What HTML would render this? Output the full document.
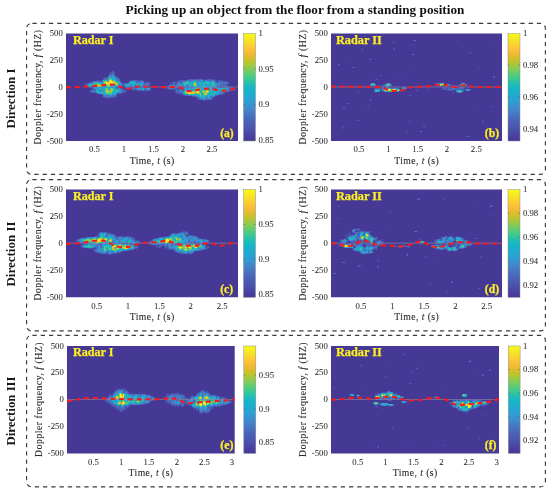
<!DOCTYPE html>
<html lang="en">
<head>
<meta charset="utf-8">
<title>Picking up an object from the floor from a standing position</title>
<style>
html,body{margin:0;padding:0;background:#fff;}
body{width:550px;height:492px;overflow:hidden;}
svg{display:block;}
text{font-family:"Liberation Serif","DejaVu Serif",serif;}
.tk{font-size:8.7px;fill:#2b2b2b;stroke:#2b2b2b;stroke-width:0.05;}
.lb{font-size:9.7px;fill:#2b2b2b;stroke:#2b2b2b;stroke-width:0.1;}
.it{font-style:italic;}
.rd{font-size:12.4px;font-weight:bold;fill:#fff024;stroke:#fff024;stroke-width:0.25;}
.tg{font-size:11.8px;font-weight:bold;fill:#fff024;stroke:#fff024;stroke-width:0.25;}
.dir{font-size:12.6px;font-weight:bold;fill:#1a1a1a;}
.ttl{font-size:11.8px;font-weight:bold;fill:#111;}
.box{fill:none;stroke:#3c3c3c;stroke-width:1.15;stroke-dasharray:4.3 3.97;stroke-dashoffset:7.47;}
.red{fill:none;stroke:#f51a20;stroke-width:2.1;stroke-dasharray:5.0 3.75;}
</style>
</head>
<body>
<svg width="550" height="492" viewBox="0 0 550 492">
<defs>

<radialGradient id="rg"><stop offset="0" stop-color="#fff" stop-opacity="1"/><stop offset="0.45" stop-color="#fff" stop-opacity="0.85"/><stop offset="0.75" stop-color="#fff" stop-opacity="0.42"/><stop offset="1" stop-color="#fff" stop-opacity="0"/></radialGradient>
<linearGradient id="cbg" x1="0" y1="0" x2="0" y2="1"><stop offset="0" stop-color="#f9fb15"/><stop offset="0.000" stop-color="#f9fb15"/><stop offset="0.048" stop-color="#f5e924"/><stop offset="0.095" stop-color="#fad62d"/><stop offset="0.143" stop-color="#fec338"/><stop offset="0.190" stop-color="#f0ba36"/><stop offset="0.238" stop-color="#d1bf27"/><stop offset="0.286" stop-color="#abc739"/><stop offset="0.333" stop-color="#81cc59"/><stop offset="0.381" stop-color="#57cc7a"/><stop offset="0.429" stop-color="#37c897"/><stop offset="0.476" stop-color="#1fbcb9"/><stop offset="0.524" stop-color="#15b4c9"/><stop offset="0.571" stop-color="#1fabce"/><stop offset="0.619" stop-color="#29a2d4"/><stop offset="0.667" stop-color="#3893d0"/><stop offset="0.714" stop-color="#4484c9"/><stop offset="0.762" stop-color="#4773c0"/><stop offset="0.810" stop-color="#4a64b7"/><stop offset="0.857" stop-color="#4a5ab1"/><stop offset="0.905" stop-color="#4a4faa"/><stop offset="0.952" stop-color="#4940a2"/><stop offset="1.000" stop-color="#463996"/></linearGradient>
<filter id="ha" filterUnits="userSpaceOnUse" x="65.0" y="32.0" width="174.0" height="110.0" color-interpolation-filters="sRGB">
<feGaussianBlur in="SourceGraphic" stdDeviation="0.6" result="b"/>
<feTurbulence type="fractalNoise" baseFrequency="0.32 0.26" numOctaves="2" seed="3" result="t"/>
<feColorMatrix in="t" type="matrix" values="1 0 0 0 0  1 0 0 0 0  1 0 0 0 0  0 0 0 0 1" result="n"/>
<feComposite in="b" in2="n" operator="arithmetic" k1="2.00" k2="0.10" k3="0" k4="0" result="m"/>
<feColorMatrix in="m" type="matrix" values="1 0 0 0 0  0 1 0 0 0  0 0 1 0 0  0 0 0 0 1" result="m1"/>
<feComponentTransfer in="m1">
<feFuncR type="table" tableValues="0.275 0.275 0.275 0.275 0.275 0.275 0.286 0.289 0.290 0.290 0.290 0.290 0.287 0.283 0.279 0.274 0.270 0.266 0.259 0.239 0.218 0.198 0.177 0.162 0.150 0.137 0.125 0.113 0.100 0.087 0.080 0.089 0.113 0.143 0.177 0.207 0.236 0.273 0.320 0.369 0.420 0.476 0.532 0.588 0.642 0.694 0.744 0.791 0.835 0.876 0.914 0.949 0.979 0.996 0.997 0.994 0.987 0.977 0.967 0.961 0.960 0.963 0.969 0.977"/>
<feFuncG type="table" tableValues="0.224 0.224 0.224 0.224 0.224 0.224 0.245 0.295 0.336 0.368 0.382 0.395 0.413 0.433 0.454 0.475 0.496 0.517 0.538 0.558 0.578 0.598 0.618 0.633 0.645 0.658 0.670 0.682 0.695 0.705 0.712 0.721 0.733 0.748 0.766 0.780 0.789 0.795 0.799 0.802 0.803 0.801 0.797 0.791 0.784 0.775 0.766 0.756 0.747 0.738 0.732 0.729 0.733 0.749 0.771 0.794 0.818 0.842 0.867 0.891 0.915 0.938 0.961 0.984"/>
<feFuncB type="table" tableValues="0.588 0.588 0.588 0.588 0.588 0.588 0.632 0.659 0.683 0.703 0.711 0.719 0.729 0.741 0.753 0.766 0.778 0.790 0.801 0.809 0.817 0.824 0.832 0.830 0.824 0.817 0.810 0.803 0.796 0.790 0.780 0.762 0.735 0.698 0.650 0.607 0.570 0.534 0.496 0.455 0.412 0.369 0.327 0.284 0.244 0.209 0.181 0.160 0.156 0.165 0.187 0.218 0.239 0.233 0.216 0.200 0.187 0.175 0.163 0.153 0.141 0.126 0.106 0.081"/>
</feComponentTransfer>
</filter>
<filter id="hb" filterUnits="userSpaceOnUse" x="330.0" y="32.0" width="173.0" height="110.0" color-interpolation-filters="sRGB">
<feGaussianBlur in="SourceGraphic" stdDeviation="0.6" result="b"/>
<feTurbulence type="fractalNoise" baseFrequency="0.4 0.35" numOctaves="2" seed="5" result="t"/>
<feColorMatrix in="t" type="matrix" values="1 0 0 0 0  1 0 0 0 0  1 0 0 0 0  0 0 0 0 1" result="n"/>
<feComposite in="b" in2="n" operator="arithmetic" k1="2.80" k2="-0.30" k3="0" k4="0" result="m"/>
<feColorMatrix in="m" type="matrix" values="1 0 0 0 0  0 1 0 0 0  0 0 1 0 0  0 0 0 0 1" result="m1"/>
<feComponentTransfer in="m1">
<feFuncR type="table" tableValues="0.275 0.275 0.275 0.275 0.275 0.275 0.286 0.289 0.290 0.290 0.290 0.290 0.287 0.283 0.279 0.274 0.270 0.266 0.259 0.239 0.218 0.198 0.177 0.162 0.150 0.137 0.125 0.113 0.100 0.087 0.080 0.089 0.113 0.143 0.177 0.207 0.236 0.273 0.320 0.369 0.420 0.476 0.532 0.588 0.642 0.694 0.744 0.791 0.835 0.876 0.914 0.949 0.979 0.996 0.997 0.994 0.987 0.977 0.967 0.961 0.960 0.963 0.969 0.977"/>
<feFuncG type="table" tableValues="0.224 0.224 0.224 0.224 0.224 0.224 0.245 0.295 0.336 0.368 0.382 0.395 0.413 0.433 0.454 0.475 0.496 0.517 0.538 0.558 0.578 0.598 0.618 0.633 0.645 0.658 0.670 0.682 0.695 0.705 0.712 0.721 0.733 0.748 0.766 0.780 0.789 0.795 0.799 0.802 0.803 0.801 0.797 0.791 0.784 0.775 0.766 0.756 0.747 0.738 0.732 0.729 0.733 0.749 0.771 0.794 0.818 0.842 0.867 0.891 0.915 0.938 0.961 0.984"/>
<feFuncB type="table" tableValues="0.588 0.588 0.588 0.588 0.588 0.588 0.632 0.659 0.683 0.703 0.711 0.719 0.729 0.741 0.753 0.766 0.778 0.790 0.801 0.809 0.817 0.824 0.832 0.830 0.824 0.817 0.810 0.803 0.796 0.790 0.780 0.762 0.735 0.698 0.650 0.607 0.570 0.534 0.496 0.455 0.412 0.369 0.327 0.284 0.244 0.209 0.181 0.160 0.156 0.165 0.187 0.218 0.239 0.233 0.216 0.200 0.187 0.175 0.163 0.153 0.141 0.126 0.106 0.081"/>
</feComponentTransfer>
</filter>
<filter id="hc" filterUnits="userSpaceOnUse" x="65.0" y="188.0" width="174.0" height="111.0" color-interpolation-filters="sRGB">
<feGaussianBlur in="SourceGraphic" stdDeviation="0.6" result="b"/>
<feTurbulence type="fractalNoise" baseFrequency="0.32 0.26" numOctaves="2" seed="8" result="t"/>
<feColorMatrix in="t" type="matrix" values="1 0 0 0 0  1 0 0 0 0  1 0 0 0 0  0 0 0 0 1" result="n"/>
<feComposite in="b" in2="n" operator="arithmetic" k1="2.00" k2="0.10" k3="0" k4="0" result="m"/>
<feColorMatrix in="m" type="matrix" values="1 0 0 0 0  0 1 0 0 0  0 0 1 0 0  0 0 0 0 1" result="m1"/>
<feComponentTransfer in="m1">
<feFuncR type="table" tableValues="0.275 0.275 0.275 0.275 0.275 0.275 0.286 0.289 0.290 0.290 0.290 0.290 0.287 0.283 0.279 0.274 0.270 0.266 0.259 0.239 0.218 0.198 0.177 0.162 0.150 0.137 0.125 0.113 0.100 0.087 0.080 0.089 0.113 0.143 0.177 0.207 0.236 0.273 0.320 0.369 0.420 0.476 0.532 0.588 0.642 0.694 0.744 0.791 0.835 0.876 0.914 0.949 0.979 0.996 0.997 0.994 0.987 0.977 0.967 0.961 0.960 0.963 0.969 0.977"/>
<feFuncG type="table" tableValues="0.224 0.224 0.224 0.224 0.224 0.224 0.245 0.295 0.336 0.368 0.382 0.395 0.413 0.433 0.454 0.475 0.496 0.517 0.538 0.558 0.578 0.598 0.618 0.633 0.645 0.658 0.670 0.682 0.695 0.705 0.712 0.721 0.733 0.748 0.766 0.780 0.789 0.795 0.799 0.802 0.803 0.801 0.797 0.791 0.784 0.775 0.766 0.756 0.747 0.738 0.732 0.729 0.733 0.749 0.771 0.794 0.818 0.842 0.867 0.891 0.915 0.938 0.961 0.984"/>
<feFuncB type="table" tableValues="0.588 0.588 0.588 0.588 0.588 0.588 0.632 0.659 0.683 0.703 0.711 0.719 0.729 0.741 0.753 0.766 0.778 0.790 0.801 0.809 0.817 0.824 0.832 0.830 0.824 0.817 0.810 0.803 0.796 0.790 0.780 0.762 0.735 0.698 0.650 0.607 0.570 0.534 0.496 0.455 0.412 0.369 0.327 0.284 0.244 0.209 0.181 0.160 0.156 0.165 0.187 0.218 0.239 0.233 0.216 0.200 0.187 0.175 0.163 0.153 0.141 0.126 0.106 0.081"/>
</feComponentTransfer>
</filter>
<filter id="hd" filterUnits="userSpaceOnUse" x="330.0" y="188.0" width="173.0" height="111.0" color-interpolation-filters="sRGB">
<feGaussianBlur in="SourceGraphic" stdDeviation="0.6" result="b"/>
<feTurbulence type="fractalNoise" baseFrequency="0.3 0.27" numOctaves="2" seed="11" result="t"/>
<feColorMatrix in="t" type="matrix" values="1 0 0 0 0  1 0 0 0 0  1 0 0 0 0  0 0 0 0 1" result="n"/>
<feComposite in="b" in2="n" operator="arithmetic" k1="3.30" k2="-0.55" k3="0" k4="0" result="m"/>
<feColorMatrix in="m" type="matrix" values="1 0 0 0 0  0 1 0 0 0  0 0 1 0 0  0 0 0 0 1" result="m1"/>
<feComponentTransfer in="m1">
<feFuncR type="table" tableValues="0.275 0.275 0.275 0.275 0.275 0.275 0.286 0.289 0.290 0.290 0.290 0.290 0.287 0.283 0.279 0.274 0.270 0.266 0.259 0.239 0.218 0.198 0.177 0.162 0.150 0.137 0.125 0.113 0.100 0.087 0.080 0.089 0.113 0.143 0.177 0.207 0.236 0.273 0.320 0.369 0.420 0.476 0.532 0.588 0.642 0.694 0.744 0.791 0.835 0.876 0.914 0.949 0.979 0.996 0.997 0.994 0.987 0.977 0.967 0.961 0.960 0.963 0.969 0.977"/>
<feFuncG type="table" tableValues="0.224 0.224 0.224 0.224 0.224 0.224 0.245 0.295 0.336 0.368 0.382 0.395 0.413 0.433 0.454 0.475 0.496 0.517 0.538 0.558 0.578 0.598 0.618 0.633 0.645 0.658 0.670 0.682 0.695 0.705 0.712 0.721 0.733 0.748 0.766 0.780 0.789 0.795 0.799 0.802 0.803 0.801 0.797 0.791 0.784 0.775 0.766 0.756 0.747 0.738 0.732 0.729 0.733 0.749 0.771 0.794 0.818 0.842 0.867 0.891 0.915 0.938 0.961 0.984"/>
<feFuncB type="table" tableValues="0.588 0.588 0.588 0.588 0.588 0.588 0.632 0.659 0.683 0.703 0.711 0.719 0.729 0.741 0.753 0.766 0.778 0.790 0.801 0.809 0.817 0.824 0.832 0.830 0.824 0.817 0.810 0.803 0.796 0.790 0.780 0.762 0.735 0.698 0.650 0.607 0.570 0.534 0.496 0.455 0.412 0.369 0.327 0.284 0.244 0.209 0.181 0.160 0.156 0.165 0.187 0.218 0.239 0.233 0.216 0.200 0.187 0.175 0.163 0.153 0.141 0.126 0.106 0.081"/>
</feComponentTransfer>
</filter>
<filter id="he" filterUnits="userSpaceOnUse" x="66.0" y="345.0" width="170.0" height="110.0" color-interpolation-filters="sRGB">
<feGaussianBlur in="SourceGraphic" stdDeviation="0.6" result="b"/>
<feTurbulence type="fractalNoise" baseFrequency="0.45 0.2" numOctaves="2" seed="14" result="t"/>
<feColorMatrix in="t" type="matrix" values="1 0 0 0 0  1 0 0 0 0  1 0 0 0 0  0 0 0 0 1" result="n"/>
<feComposite in="b" in2="n" operator="arithmetic" k1="2.00" k2="0.10" k3="0" k4="0" result="m"/>
<feColorMatrix in="m" type="matrix" values="1 0 0 0 0  0 1 0 0 0  0 0 1 0 0  0 0 0 0 1" result="m1"/>
<feComponentTransfer in="m1">
<feFuncR type="table" tableValues="0.275 0.275 0.275 0.275 0.275 0.275 0.286 0.289 0.290 0.290 0.290 0.290 0.287 0.283 0.279 0.274 0.270 0.266 0.259 0.239 0.218 0.198 0.177 0.162 0.150 0.137 0.125 0.113 0.100 0.087 0.080 0.089 0.113 0.143 0.177 0.207 0.236 0.273 0.320 0.369 0.420 0.476 0.532 0.588 0.642 0.694 0.744 0.791 0.835 0.876 0.914 0.949 0.979 0.996 0.997 0.994 0.987 0.977 0.967 0.961 0.960 0.963 0.969 0.977"/>
<feFuncG type="table" tableValues="0.224 0.224 0.224 0.224 0.224 0.224 0.245 0.295 0.336 0.368 0.382 0.395 0.413 0.433 0.454 0.475 0.496 0.517 0.538 0.558 0.578 0.598 0.618 0.633 0.645 0.658 0.670 0.682 0.695 0.705 0.712 0.721 0.733 0.748 0.766 0.780 0.789 0.795 0.799 0.802 0.803 0.801 0.797 0.791 0.784 0.775 0.766 0.756 0.747 0.738 0.732 0.729 0.733 0.749 0.771 0.794 0.818 0.842 0.867 0.891 0.915 0.938 0.961 0.984"/>
<feFuncB type="table" tableValues="0.588 0.588 0.588 0.588 0.588 0.588 0.632 0.659 0.683 0.703 0.711 0.719 0.729 0.741 0.753 0.766 0.778 0.790 0.801 0.809 0.817 0.824 0.832 0.830 0.824 0.817 0.810 0.803 0.796 0.790 0.780 0.762 0.735 0.698 0.650 0.607 0.570 0.534 0.496 0.455 0.412 0.369 0.327 0.284 0.244 0.209 0.181 0.160 0.156 0.165 0.187 0.218 0.239 0.233 0.216 0.200 0.187 0.175 0.163 0.153 0.141 0.126 0.106 0.081"/>
</feComponentTransfer>
</filter>
<filter id="hf" filterUnits="userSpaceOnUse" x="330.0" y="345.0" width="170.0" height="110.0" color-interpolation-filters="sRGB">
<feGaussianBlur in="SourceGraphic" stdDeviation="0.6" result="b"/>
<feTurbulence type="fractalNoise" baseFrequency="0.4 0.35" numOctaves="2" seed="17" result="t"/>
<feColorMatrix in="t" type="matrix" values="1 0 0 0 0  1 0 0 0 0  1 0 0 0 0  0 0 0 0 1" result="n"/>
<feComposite in="b" in2="n" operator="arithmetic" k1="2.80" k2="-0.30" k3="0" k4="0" result="m"/>
<feColorMatrix in="m" type="matrix" values="1 0 0 0 0  0 1 0 0 0  0 0 1 0 0  0 0 0 0 1" result="m1"/>
<feComponentTransfer in="m1">
<feFuncR type="table" tableValues="0.275 0.275 0.275 0.275 0.275 0.275 0.286 0.289 0.290 0.290 0.290 0.290 0.287 0.283 0.279 0.274 0.270 0.266 0.259 0.239 0.218 0.198 0.177 0.162 0.150 0.137 0.125 0.113 0.100 0.087 0.080 0.089 0.113 0.143 0.177 0.207 0.236 0.273 0.320 0.369 0.420 0.476 0.532 0.588 0.642 0.694 0.744 0.791 0.835 0.876 0.914 0.949 0.979 0.996 0.997 0.994 0.987 0.977 0.967 0.961 0.960 0.963 0.969 0.977"/>
<feFuncG type="table" tableValues="0.224 0.224 0.224 0.224 0.224 0.224 0.245 0.295 0.336 0.368 0.382 0.395 0.413 0.433 0.454 0.475 0.496 0.517 0.538 0.558 0.578 0.598 0.618 0.633 0.645 0.658 0.670 0.682 0.695 0.705 0.712 0.721 0.733 0.748 0.766 0.780 0.789 0.795 0.799 0.802 0.803 0.801 0.797 0.791 0.784 0.775 0.766 0.756 0.747 0.738 0.732 0.729 0.733 0.749 0.771 0.794 0.818 0.842 0.867 0.891 0.915 0.938 0.961 0.984"/>
<feFuncB type="table" tableValues="0.588 0.588 0.588 0.588 0.588 0.588 0.632 0.659 0.683 0.703 0.711 0.719 0.729 0.741 0.753 0.766 0.778 0.790 0.801 0.809 0.817 0.824 0.832 0.830 0.824 0.817 0.810 0.803 0.796 0.790 0.780 0.762 0.735 0.698 0.650 0.607 0.570 0.534 0.496 0.455 0.412 0.369 0.327 0.284 0.244 0.209 0.181 0.160 0.156 0.165 0.187 0.218 0.239 0.233 0.216 0.200 0.187 0.175 0.163 0.153 0.141 0.126 0.106 0.081"/>
</feComponentTransfer>
</filter>
<clipPath id="cpa"><rect x="66.00" y="33.50" width="172.00" height="107.50"/></clipPath>
<clipPath id="cpb"><rect x="331.00" y="33.50" width="171.00" height="107.50"/></clipPath>
<clipPath id="cpc"><rect x="66.00" y="189.60" width="172.00" height="107.70"/></clipPath>
<clipPath id="cpd"><rect x="331.00" y="189.60" width="171.00" height="107.70"/></clipPath>
<clipPath id="cpe"><rect x="67.00" y="346.00" width="167.70" height="107.40"/></clipPath>
<clipPath id="cpf"><rect x="331.00" y="346.00" width="168.00" height="107.40"/></clipPath>
</defs>
<text class="ttl" x="125.6" y="14.4" textLength="338.8" lengthAdjust="spacingAndGlyphs">Picking up an object from the floor from a standing position</text>
<rect class="box" x="26.6" y="23.4" width="518.8" height="151.0" rx="5" ry="5"/>
<rect class="box" x="26.6" y="179.6" width="518.8" height="151.3" rx="5" ry="5"/>
<rect class="box" x="26.6" y="335.4" width="518.8" height="151.4" rx="5" ry="5"/>
<text class="dir" transform="translate(14.6 98.5) rotate(-90)" text-anchor="middle" textLength="60.0" lengthAdjust="spacingAndGlyphs">Direction I</text>
<text class="dir" transform="translate(14.6 254.0) rotate(-90)" text-anchor="middle" textLength="65.0" lengthAdjust="spacingAndGlyphs">Direction II</text>
<text class="dir" transform="translate(14.6 411.0) rotate(-90)" text-anchor="middle" textLength="69.2" lengthAdjust="spacingAndGlyphs">Direction III</text>
<g id="plot-a">
<g clip-path="url(#cpa)"><g filter="url(#ha)"><rect x="63.0" y="30.5" width="178.0" height="113.5" fill="#000"/>
<ellipse cx="105.0" cy="85.0" rx="23.0" ry="5.5" fill="url(#rg)" fill-opacity="0.50"/>
<ellipse cx="111.5" cy="81.5" rx="10.5" ry="7.0" fill="url(#rg)" fill-opacity="0.40"/>
<ellipse cx="112.0" cy="75.0" rx="4.5" ry="7.0" fill="url(#rg)" fill-opacity="0.15"/>
<ellipse cx="111.5" cy="82.4" rx="6.0" ry="3.4" fill="url(#rg)" fill-opacity="0.50"/>
<ellipse cx="110.5" cy="83.4" rx="3.0" ry="1.7" fill="url(#rg)" fill-opacity="0.55"/>
<ellipse cx="108.0" cy="91.0" rx="20.5" ry="4.2" fill="url(#rg)" fill-opacity="0.50"/>
<ellipse cx="109.0" cy="91.0" rx="6.0" ry="1.6" fill="url(#rg)" fill-opacity="0.35"/>
<ellipse cx="110.0" cy="95.5" rx="10.0" ry="4.0" fill="url(#rg)" fill-opacity="0.25"/>
<ellipse cx="95.0" cy="85.5" rx="9.0" ry="2.6" fill="url(#rg)" fill-opacity="0.25"/>
<ellipse cx="139.0" cy="85.5" rx="14.5" ry="6.5" fill="url(#rg)" fill-opacity="0.32"/>
<ellipse cx="133.0" cy="83.0" rx="6.0" ry="3.5" fill="url(#rg)" fill-opacity="0.20"/>
<ellipse cx="146.0" cy="89.0" rx="7.0" ry="3.5" fill="url(#rg)" fill-opacity="0.20"/>
<ellipse cx="127.0" cy="86.0" rx="6.0" ry="3.5" fill="url(#rg)" fill-opacity="0.25"/>
<ellipse cx="200.0" cy="84.0" rx="35.0" ry="6.0" fill="url(#rg)" fill-opacity="0.36"/>
<ellipse cx="196.0" cy="84.6" rx="9.0" ry="2.4" fill="url(#rg)" fill-opacity="0.25"/>
<ellipse cx="212.0" cy="83.4" rx="6.0" ry="2.4" fill="url(#rg)" fill-opacity="0.25"/>
<ellipse cx="186.0" cy="83.5" rx="6.0" ry="2.4" fill="url(#rg)" fill-opacity="0.20"/>
<ellipse cx="201.0" cy="91.5" rx="29.0" ry="6.0" fill="url(#rg)" fill-opacity="0.52"/>
<ellipse cx="193.0" cy="92.3" rx="9.0" ry="2.6" fill="url(#rg)" fill-opacity="0.55"/>
<ellipse cx="190.5" cy="92.0" rx="3.4" ry="1.6" fill="url(#rg)" fill-opacity="0.50"/>
<ellipse cx="204.5" cy="91.0" rx="5.5" ry="2.0" fill="url(#rg)" fill-opacity="0.35"/>
<ellipse cx="205.0" cy="97.0" rx="12.0" ry="4.8" fill="url(#rg)" fill-opacity="0.27"/>
<ellipse cx="227.0" cy="89.0" rx="11.0" ry="3.4" fill="url(#rg)" fill-opacity="0.28"/>
<ellipse cx="172.0" cy="87.5" rx="8.0" ry="2.8" fill="url(#rg)" fill-opacity="0.25"/>
<line x1="66.0" y1="87.25" x2="238.0" y2="87.25" stroke="#000" stroke-opacity="0.5" stroke-width="0.9"/>
</g></g>
<line x1="150.0" y1="87.0" x2="238.0" y2="87.0" stroke="#9a98a8" stroke-width="0.7" stroke-opacity="0.75"/>
<path class="red" d="M66.0 87.2C68.0 87.2 74.3 87.1 78.0 87.0C81.7 86.9 84.7 86.6 88.0 86.4C91.3 86.2 95.0 85.8 98.0 85.6C101.0 85.4 103.7 85.2 106.0 85.0C108.3 84.8 110.3 84.5 112.0 84.5C113.7 84.5 114.7 84.6 116.0 85.0C117.3 85.4 118.8 86.3 120.0 86.8C121.2 87.3 121.8 87.7 123.0 88.0C124.2 88.3 125.5 88.8 127.0 88.8C128.5 88.8 130.2 88.2 132.0 87.8C133.8 87.4 135.3 86.7 138.0 86.5C140.7 86.3 144.0 86.6 148.0 86.7C152.0 86.8 157.3 87.0 162.0 87.1C166.7 87.2 172.8 87.0 176.0 87.1C179.2 87.2 179.5 87.3 181.0 87.8C182.5 88.3 183.5 89.4 185.0 90.0C186.5 90.6 188.5 91.1 190.0 91.2C191.5 91.3 192.5 91.1 194.0 90.8C195.5 90.5 196.8 89.9 199.0 89.6C201.2 89.3 204.3 88.8 207.0 88.8C209.7 88.8 212.2 89.3 215.0 89.6C217.8 89.9 221.5 90.6 224.0 90.6C226.5 90.6 228.2 90.2 230.0 89.8C231.8 89.4 233.7 88.6 235.0 88.3C236.3 88.0 237.5 87.9 238.0 87.8"/>
<text class="rd" x="73.0" y="43.8" textLength="40.5" lengthAdjust="spacingAndGlyphs">Radar I</text>
<text class="tg" x="220.2" y="136.9" textLength="13.5" lengthAdjust="spacingAndGlyphs">(a)</text>
<text class="tk" x="62.8" y="36.1" text-anchor="end">500</text>
<text class="tk" x="62.8" y="63.0" text-anchor="end">250</text>
<text class="tk" x="62.8" y="89.9" text-anchor="end">0</text>
<text class="tk" x="62.8" y="116.7" text-anchor="end">-250</text>
<text class="tk" x="62.8" y="143.6" text-anchor="end">-500</text>
<text class="lb" transform="translate(41.0 87.2) rotate(-90)" text-anchor="middle" textLength="114.4" lengthAdjust="spacing">Doppler frequency, <tspan class="it">f</tspan> (HZ)</text>
<text class="tk" x="94.5" y="152.3" text-anchor="middle">0.5</text>
<text class="tk" x="124.0" y="152.3" text-anchor="middle">1</text>
<text class="tk" x="153.5" y="152.3" text-anchor="middle">1.5</text>
<text class="tk" x="182.8" y="152.3" text-anchor="middle">2</text>
<text class="tk" x="212.0" y="152.3" text-anchor="middle">2.5</text>
<text class="lb" x="152.0" y="163.9" text-anchor="middle" textLength="44.6" lengthAdjust="spacing">Time, <tspan class="it">t</tspan> (s)</text>
<rect x="243.5" y="33.5" width="12.0" height="107.5" fill="url(#cbg)" stroke="#8c8c8c" stroke-width="0.5"/>
<text class="tk" x="258.5" y="36.3">1</text>
<text class="tk" x="258.5" y="71.6">0.95</text>
<path d="M255.5 68.7h-1.4M243.5 68.7h1.4" stroke="#555" stroke-width="0.5" fill="none"/>
<text class="tk" x="258.5" y="107.3">0.9</text>
<path d="M255.5 104.4h-1.4M243.5 104.4h1.4" stroke="#555" stroke-width="0.5" fill="none"/>
<text class="tk" x="258.5" y="142.7">0.85</text>
<path d="M255.5 139.8h-1.4M243.5 139.8h1.4" stroke="#555" stroke-width="0.5" fill="none"/>
</g>
<g id="plot-b">
<g clip-path="url(#cpb)"><g filter="url(#hb)"><rect x="328.0" y="30.5" width="177.0" height="113.5" fill="#000"/>
<ellipse cx="373.0" cy="84.8" rx="3.5" ry="2.0" fill="url(#rg)" fill-opacity="0.50"/>
<ellipse cx="388.0" cy="84.8" rx="4.0" ry="2.0" fill="url(#rg)" fill-opacity="0.45"/>
<ellipse cx="377.0" cy="90.6" rx="4.0" ry="2.0" fill="url(#rg)" fill-opacity="0.50"/>
<ellipse cx="390.0" cy="90.4" rx="8.0" ry="2.2" fill="url(#rg)" fill-opacity="0.70"/>
<ellipse cx="397.0" cy="90.0" rx="4.5" ry="2.0" fill="url(#rg)" fill-opacity="0.80"/>
<ellipse cx="385.0" cy="88.0" rx="14.0" ry="4.5" fill="url(#rg)" fill-opacity="0.22"/>
<ellipse cx="404.0" cy="88.0" rx="4.0" ry="2.0" fill="url(#rg)" fill-opacity="0.30"/>
<ellipse cx="440.0" cy="84.5" rx="5.5" ry="1.9" fill="url(#rg)" fill-opacity="0.75"/>
<ellipse cx="447.0" cy="85.0" rx="3.5" ry="1.8" fill="url(#rg)" fill-opacity="0.50"/>
<ellipse cx="460.0" cy="91.2" rx="4.5" ry="2.0" fill="url(#rg)" fill-opacity="0.45"/>
<ellipse cx="463.5" cy="84.8" rx="4.5" ry="1.9" fill="url(#rg)" fill-opacity="0.70"/>
<ellipse cx="453.0" cy="88.0" rx="16.0" ry="4.5" fill="url(#rg)" fill-opacity="0.18"/>
<ellipse cx="468.0" cy="90.0" rx="3.5" ry="1.6" fill="url(#rg)" fill-opacity="0.35"/>
<ellipse cx="387.4" cy="51.8" rx="2.4" ry="0.8" fill="url(#rg)" fill-opacity="0.13"/>
<ellipse cx="394.3" cy="42.4" rx="2.2" ry="0.8" fill="url(#rg)" fill-opacity="0.12"/>
<ellipse cx="345.5" cy="45.7" rx="2.1" ry="1.2" fill="url(#rg)" fill-opacity="0.10"/>
<ellipse cx="370.8" cy="100.2" rx="2.9" ry="1.1" fill="url(#rg)" fill-opacity="0.12"/>
<ellipse cx="495.1" cy="41.2" rx="2.8" ry="0.9" fill="url(#rg)" fill-opacity="0.10"/>
<ellipse cx="353.4" cy="67.8" rx="2.7" ry="0.9" fill="url(#rg)" fill-opacity="0.14"/>
<ellipse cx="439.4" cy="74.3" rx="2.3" ry="0.8" fill="url(#rg)" fill-opacity="0.09"/>
<ellipse cx="368.0" cy="105.6" rx="2.1" ry="1.0" fill="url(#rg)" fill-opacity="0.14"/>
<ellipse cx="408.8" cy="66.9" rx="2.7" ry="1.1" fill="url(#rg)" fill-opacity="0.11"/>
<ellipse cx="428.8" cy="89.8" rx="2.8" ry="1.2" fill="url(#rg)" fill-opacity="0.11"/>
<ellipse cx="495.7" cy="48.5" rx="2.1" ry="1.2" fill="url(#rg)" fill-opacity="0.10"/>
<ellipse cx="414.7" cy="40.5" rx="2.5" ry="1.2" fill="url(#rg)" fill-opacity="0.14"/>
<ellipse cx="478.5" cy="68.3" rx="2.5" ry="1.1" fill="url(#rg)" fill-opacity="0.14"/>
<ellipse cx="409.3" cy="121.8" rx="2.9" ry="1.0" fill="url(#rg)" fill-opacity="0.14"/>
<ellipse cx="344.0" cy="107.7" rx="2.4" ry="1.3" fill="url(#rg)" fill-opacity="0.16"/>
<ellipse cx="381.0" cy="75.7" rx="2.5" ry="0.8" fill="url(#rg)" fill-opacity="0.13"/>
<ellipse cx="361.7" cy="48.4" rx="1.5" ry="1.2" fill="url(#rg)" fill-opacity="0.10"/>
<ellipse cx="374.9" cy="76.2" rx="2.8" ry="0.8" fill="url(#rg)" fill-opacity="0.13"/>
<ellipse cx="424.7" cy="126.2" rx="2.7" ry="1.2" fill="url(#rg)" fill-opacity="0.11"/>
<ellipse cx="402.5" cy="72.9" rx="2.8" ry="1.3" fill="url(#rg)" fill-opacity="0.10"/>
<ellipse cx="363.1" cy="60.0" rx="1.8" ry="1.0" fill="url(#rg)" fill-opacity="0.14"/>
<ellipse cx="377.4" cy="36.9" rx="2.1" ry="1.0" fill="url(#rg)" fill-opacity="0.14"/>
<ellipse cx="491.3" cy="106.6" rx="2.2" ry="1.1" fill="url(#rg)" fill-opacity="0.14"/>
<ellipse cx="342.9" cy="127.8" rx="2.6" ry="1.2" fill="url(#rg)" fill-opacity="0.15"/>
<ellipse cx="398.7" cy="77.0" rx="1.6" ry="1.1" fill="url(#rg)" fill-opacity="0.09"/>
<ellipse cx="345.1" cy="57.7" rx="1.7" ry="1.0" fill="url(#rg)" fill-opacity="0.09"/>
<ellipse cx="334.0" cy="51.9" rx="1.6" ry="1.0" fill="url(#rg)" fill-opacity="0.09"/>
<ellipse cx="478.3" cy="98.8" rx="1.6" ry="0.9" fill="url(#rg)" fill-opacity="0.12"/>
<ellipse cx="394.1" cy="49.0" rx="2.8" ry="1.3" fill="url(#rg)" fill-opacity="0.13"/>
<ellipse cx="413.8" cy="45.2" rx="1.6" ry="1.0" fill="url(#rg)" fill-opacity="0.11"/>
<ellipse cx="470.8" cy="52.9" rx="1.4" ry="1.3" fill="url(#rg)" fill-opacity="0.13"/>
<ellipse cx="358.2" cy="91.6" rx="1.4" ry="1.1" fill="url(#rg)" fill-opacity="0.17"/>
<ellipse cx="476.4" cy="107.2" rx="1.8" ry="1.0" fill="url(#rg)" fill-opacity="0.10"/>
<ellipse cx="461.4" cy="90.6" rx="2.6" ry="1.0" fill="url(#rg)" fill-opacity="0.11"/>
<ellipse cx="467.9" cy="136.5" rx="2.8" ry="1.2" fill="url(#rg)" fill-opacity="0.16"/>
<ellipse cx="456.1" cy="59.5" rx="2.2" ry="1.0" fill="url(#rg)" fill-opacity="0.09"/>
<ellipse cx="338.6" cy="64.9" rx="1.8" ry="1.1" fill="url(#rg)" fill-opacity="0.17"/>
<ellipse cx="407.8" cy="131.6" rx="3.0" ry="1.3" fill="url(#rg)" fill-opacity="0.12"/>
<ellipse cx="370.4" cy="59.5" rx="1.7" ry="0.9" fill="url(#rg)" fill-opacity="0.14"/>
<ellipse cx="482.6" cy="121.8" rx="2.2" ry="1.1" fill="url(#rg)" fill-opacity="0.15"/>
<ellipse cx="348.0" cy="103.5" rx="2.9" ry="1.2" fill="url(#rg)" fill-opacity="0.15"/>
<ellipse cx="412.9" cy="54.6" rx="2.7" ry="1.0" fill="url(#rg)" fill-opacity="0.15"/>
<ellipse cx="494.3" cy="76.7" rx="2.0" ry="1.3" fill="url(#rg)" fill-opacity="0.15"/>
<ellipse cx="362.1" cy="49.4" rx="1.6" ry="1.3" fill="url(#rg)" fill-opacity="0.15"/>
<ellipse cx="358.1" cy="120.4" rx="3.0" ry="1.1" fill="url(#rg)" fill-opacity="0.12"/>
<ellipse cx="424.5" cy="49.8" rx="1.4" ry="1.3" fill="url(#rg)" fill-opacity="0.14"/>
<ellipse cx="420.9" cy="131.3" rx="2.1" ry="1.2" fill="url(#rg)" fill-opacity="0.16"/>
<ellipse cx="368.8" cy="62.1" rx="1.9" ry="0.9" fill="url(#rg)" fill-opacity="0.14"/>
<ellipse cx="376.8" cy="79.0" rx="1.6" ry="1.3" fill="url(#rg)" fill-opacity="0.12"/>
<ellipse cx="409.6" cy="95.7" rx="2.8" ry="1.0" fill="url(#rg)" fill-opacity="0.16"/>
<ellipse cx="416.8" cy="90.5" rx="2.2" ry="0.8" fill="url(#rg)" fill-opacity="0.13"/>
<ellipse cx="364.2" cy="36.9" rx="2.7" ry="0.9" fill="url(#rg)" fill-opacity="0.13"/>
<ellipse cx="453.7" cy="93.0" rx="1.9" ry="1.1" fill="url(#rg)" fill-opacity="0.13"/>
<ellipse cx="463.4" cy="47.3" rx="2.3" ry="0.9" fill="url(#rg)" fill-opacity="0.11"/>
<ellipse cx="461.4" cy="88.0" rx="2.3" ry="1.2" fill="url(#rg)" fill-opacity="0.16"/>
<line x1="331.0" y1="87.25" x2="502.0" y2="87.25" stroke="#000" stroke-opacity="0.5" stroke-width="0.9"/>
</g></g>
<line x1="331.0" y1="87.0" x2="502.0" y2="87.0" stroke="#9a98a8" stroke-width="0.7" stroke-opacity="0.75"/>
<path class="red" d="M331.0 86.4C334.2 86.4 343.5 86.5 350.0 86.6C356.5 86.7 365.3 86.7 370.0 86.8C374.7 86.9 375.7 86.8 378.0 87.0C380.3 87.2 382.2 87.7 384.0 88.2C385.8 88.7 387.2 89.7 389.0 90.2C390.8 90.7 393.0 90.9 395.0 91.0C397.0 91.1 399.2 91.0 401.0 90.6C402.8 90.2 404.3 89.4 406.0 88.8C407.7 88.2 408.7 87.5 411.0 87.2C413.3 86.9 416.8 87.0 420.0 86.8C423.2 86.6 427.3 86.3 430.0 86.0C432.7 85.7 433.7 85.2 436.0 85.0C438.3 84.8 441.7 84.7 444.0 84.9C446.3 85.1 448.0 85.7 450.0 86.0C452.0 86.3 454.3 87.0 456.0 87.0C457.7 87.0 458.7 86.3 460.0 86.0C461.3 85.7 462.7 85.1 464.0 85.0C465.3 84.9 466.5 85.3 468.0 85.6C469.5 85.9 470.2 86.6 473.0 86.8C475.8 87.0 480.2 87.0 485.0 87.0C489.8 87.0 499.2 87.0 502.0 87.0"/>
<text class="rd" x="336.0" y="43.8" textLength="45.8" lengthAdjust="spacingAndGlyphs">Radar II</text>
<text class="tg" x="484.8" y="136.9" textLength="14.3" lengthAdjust="spacingAndGlyphs">(b)</text>
<text class="tk" x="327.8" y="36.1" text-anchor="end">500</text>
<text class="tk" x="327.8" y="63.0" text-anchor="end">250</text>
<text class="tk" x="327.8" y="89.9" text-anchor="end">0</text>
<text class="tk" x="327.8" y="116.7" text-anchor="end">-250</text>
<text class="tk" x="327.8" y="143.6" text-anchor="end">-500</text>
<text class="lb" transform="translate(306.0 87.2) rotate(-90)" text-anchor="middle" textLength="114.4" lengthAdjust="spacing">Doppler frequency, <tspan class="it">f</tspan> (HZ)</text>
<text class="tk" x="359.0" y="152.3" text-anchor="middle">0.5</text>
<text class="tk" x="388.3" y="152.3" text-anchor="middle">1</text>
<text class="tk" x="417.7" y="152.3" text-anchor="middle">1.5</text>
<text class="tk" x="447.0" y="152.3" text-anchor="middle">2</text>
<text class="tk" x="476.3" y="152.3" text-anchor="middle">2.5</text>
<text class="lb" x="416.5" y="163.9" text-anchor="middle" textLength="44.6" lengthAdjust="spacing">Time, <tspan class="it">t</tspan> (s)</text>
<rect x="508.0" y="33.5" width="12.0" height="107.5" fill="url(#cbg)" stroke="#8c8c8c" stroke-width="0.5"/>
<text class="tk" x="523.0" y="36.3">1</text>
<text class="tk" x="523.0" y="67.8">0.98</text>
<path d="M520.0 64.9h-1.4M508.0 64.9h1.4" stroke="#555" stroke-width="0.5" fill="none"/>
<text class="tk" x="523.0" y="99.8">0.96</text>
<path d="M520.0 96.9h-1.4M508.0 96.9h1.4" stroke="#555" stroke-width="0.5" fill="none"/>
<text class="tk" x="523.0" y="131.6">0.94</text>
<path d="M520.0 128.7h-1.4M508.0 128.7h1.4" stroke="#555" stroke-width="0.5" fill="none"/>
</g>
<g id="plot-c">
<g clip-path="url(#cpc)"><g filter="url(#hc)"><rect x="63.0" y="186.6" width="178.0" height="113.7" fill="#000"/>
<ellipse cx="106.0" cy="243.5" rx="36.0" ry="9.0" fill="url(#rg)" fill-opacity="0.22"/>
<ellipse cx="97.0" cy="240.5" rx="23.0" ry="4.2" fill="url(#rg)" fill-opacity="0.45"/>
<ellipse cx="100.0" cy="240.6" rx="12.5" ry="2.4" fill="url(#rg)" fill-opacity="0.55"/>
<ellipse cx="96.0" cy="240.8" rx="4.2" ry="1.7" fill="url(#rg)" fill-opacity="0.40"/>
<ellipse cx="106.0" cy="236.5" rx="13.0" ry="4.6" fill="url(#rg)" fill-opacity="0.28"/>
<ellipse cx="103.0" cy="233.8" rx="6.0" ry="3.0" fill="url(#rg)" fill-opacity="0.22"/>
<ellipse cx="126.0" cy="239.5" rx="13.0" ry="4.0" fill="url(#rg)" fill-opacity="0.26"/>
<ellipse cx="134.0" cy="242.0" rx="8.0" ry="3.0" fill="url(#rg)" fill-opacity="0.20"/>
<ellipse cx="118.0" cy="247.5" rx="23.0" ry="4.4" fill="url(#rg)" fill-opacity="0.48"/>
<ellipse cx="123.0" cy="247.0" rx="12.5" ry="2.4" fill="url(#rg)" fill-opacity="0.55"/>
<ellipse cx="116.0" cy="246.6" rx="4.2" ry="1.7" fill="url(#rg)" fill-opacity="0.30"/>
<ellipse cx="89.0" cy="246.4" rx="8.0" ry="2.2" fill="url(#rg)" fill-opacity="0.40"/>
<ellipse cx="108.0" cy="251.2" rx="17.0" ry="4.0" fill="url(#rg)" fill-opacity="0.27"/>
<ellipse cx="180.0" cy="243.5" rx="34.0" ry="9.0" fill="url(#rg)" fill-opacity="0.22"/>
<ellipse cx="170.0" cy="240.5" rx="21.0" ry="4.2" fill="url(#rg)" fill-opacity="0.45"/>
<ellipse cx="166.0" cy="241.0" rx="6.8" ry="2.3" fill="url(#rg)" fill-opacity="0.65"/>
<ellipse cx="176.0" cy="236.5" rx="11.0" ry="4.6" fill="url(#rg)" fill-opacity="0.28"/>
<ellipse cx="184.0" cy="233.8" rx="7.0" ry="3.4" fill="url(#rg)" fill-opacity="0.22"/>
<ellipse cx="192.0" cy="238.0" rx="9.0" ry="3.4" fill="url(#rg)" fill-opacity="0.22"/>
<ellipse cx="190.0" cy="247.5" rx="21.0" ry="4.4" fill="url(#rg)" fill-opacity="0.48"/>
<ellipse cx="191.0" cy="246.6" rx="11.5" ry="2.5" fill="url(#rg)" fill-opacity="0.50"/>
<ellipse cx="198.0" cy="246.0" rx="4.2" ry="1.8" fill="url(#rg)" fill-opacity="0.30"/>
<ellipse cx="186.0" cy="251.2" rx="13.0" ry="4.0" fill="url(#rg)" fill-opacity="0.27"/>
<ellipse cx="155.0" cy="243.0" rx="9.0" ry="2.5" fill="url(#rg)" fill-opacity="0.30"/>
<ellipse cx="181.0" cy="247.8" rx="3.4" ry="2.2" fill="url(#rg)" fill-opacity="0.30"/>
<ellipse cx="203.0" cy="241.5" rx="8.0" ry="3.0" fill="url(#rg)" fill-opacity="0.20"/>
<line x1="66.0" y1="243.45" x2="238.0" y2="243.45" stroke="#000" stroke-opacity="0.5" stroke-width="0.9"/>
</g></g>
<line x1="66.0" y1="243.2" x2="238.0" y2="243.2" stroke="#9a98a8" stroke-width="0.7" stroke-opacity="0.75"/>
<path class="red" d="M66.0 244.0C67.7 243.9 72.7 243.7 76.0 243.4C79.3 243.1 82.8 242.6 86.0 242.2C89.2 241.8 92.2 241.1 95.0 240.8C97.8 240.5 100.8 240.4 103.0 240.6C105.2 240.8 106.3 241.3 108.0 242.0C109.7 242.7 111.2 244.2 113.0 245.0C114.8 245.8 116.5 246.5 119.0 246.8C121.5 247.1 125.5 247.1 128.0 246.9C130.5 246.7 132.0 246.0 134.0 245.4C136.0 244.8 137.7 243.9 140.0 243.4C142.3 242.9 145.3 242.8 148.0 242.6C150.7 242.4 153.3 242.3 156.0 242.0C158.7 241.7 161.7 241.1 164.0 241.0C166.3 240.9 168.0 241.2 170.0 241.6C172.0 242.0 174.0 243.0 176.0 243.6C178.0 244.2 179.7 244.8 182.0 245.2C184.3 245.6 187.3 245.8 190.0 245.8C192.7 245.8 195.5 245.8 198.0 245.4C200.5 245.0 202.7 244.0 205.0 243.6C207.3 243.2 210.2 243.0 212.0 243.2C213.8 243.4 214.7 244.5 216.0 245.0C217.3 245.5 218.5 246.0 220.0 246.0C221.5 246.0 223.3 245.4 225.0 245.0C226.7 244.6 227.8 243.7 230.0 243.4C232.2 243.1 236.7 243.2 238.0 243.2"/>
<text class="rd" x="73.0" y="199.9" textLength="40.5" lengthAdjust="spacingAndGlyphs">Radar I</text>
<text class="tg" x="220.2" y="293.2" textLength="12.9" lengthAdjust="spacingAndGlyphs">(c)</text>
<text class="tk" x="62.8" y="192.2" text-anchor="end">500</text>
<text class="tk" x="62.8" y="219.1" text-anchor="end">250</text>
<text class="tk" x="62.8" y="246.0" text-anchor="end">0</text>
<text class="tk" x="62.8" y="273.0" text-anchor="end">-250</text>
<text class="tk" x="62.8" y="299.9" text-anchor="end">-500</text>
<text class="lb" transform="translate(41.0 243.4) rotate(-90)" text-anchor="middle" textLength="114.4" lengthAdjust="spacing">Doppler frequency, <tspan class="it">f</tspan> (HZ)</text>
<text class="tk" x="96.6" y="308.6" text-anchor="middle">0.5</text>
<text class="tk" x="128.0" y="308.6" text-anchor="middle">1</text>
<text class="tk" x="159.5" y="308.6" text-anchor="middle">1.5</text>
<text class="tk" x="190.7" y="308.6" text-anchor="middle">2</text>
<text class="tk" x="222.2" y="308.6" text-anchor="middle">2.5</text>
<text class="lb" x="152.0" y="320.2" text-anchor="middle" textLength="44.6" lengthAdjust="spacing">Time, <tspan class="it">t</tspan> (s)</text>
<rect x="243.5" y="189.6" width="12.0" height="107.7" fill="url(#cbg)" stroke="#8c8c8c" stroke-width="0.5"/>
<text class="tk" x="258.5" y="192.4">1</text>
<text class="tk" x="258.5" y="227.4">0.95</text>
<path d="M255.5 224.5h-1.4M243.5 224.5h1.4" stroke="#555" stroke-width="0.5" fill="none"/>
<text class="tk" x="258.5" y="262.2">0.9</text>
<path d="M255.5 259.3h-1.4M243.5 259.3h1.4" stroke="#555" stroke-width="0.5" fill="none"/>
<text class="tk" x="258.5" y="296.8">0.85</text>
<path d="M255.5 293.9h-1.4M243.5 293.9h1.4" stroke="#555" stroke-width="0.5" fill="none"/>
</g>
<g id="plot-d">
<g clip-path="url(#cpd)"><g filter="url(#hd)"><rect x="328.0" y="186.6" width="177.0" height="113.7" fill="#000"/>
<ellipse cx="361.0" cy="241.0" rx="24.0" ry="14.0" fill="url(#rg)" fill-opacity="0.17"/>
<ellipse cx="365.0" cy="236.0" rx="6.0" ry="5.0" fill="url(#rg)" fill-opacity="0.50"/>
<ellipse cx="364.5" cy="234.8" rx="3.0" ry="2.4" fill="url(#rg)" fill-opacity="0.50"/>
<ellipse cx="349.0" cy="246.2" rx="6.5" ry="2.2" fill="url(#rg)" fill-opacity="0.60"/>
<ellipse cx="343.0" cy="245.6" rx="5.5" ry="2.1" fill="url(#rg)" fill-opacity="0.30"/>
<ellipse cx="362.0" cy="248.5" rx="11.0" ry="4.2" fill="url(#rg)" fill-opacity="0.24"/>
<ellipse cx="371.0" cy="240.0" rx="6.0" ry="3.2" fill="url(#rg)" fill-opacity="0.22"/>
<ellipse cx="357.0" cy="231.0" rx="7.0" ry="3.2" fill="url(#rg)" fill-opacity="0.17"/>
<ellipse cx="366.0" cy="252.0" rx="8.0" ry="2.8" fill="url(#rg)" fill-opacity="0.22"/>
<ellipse cx="379.0" cy="243.0" rx="6.5" ry="3.6" fill="url(#rg)" fill-opacity="0.18"/>
<ellipse cx="400.0" cy="246.3" rx="9.0" ry="1.7" fill="url(#rg)" fill-opacity="0.30"/>
<ellipse cx="352.0" cy="238.0" rx="6.0" ry="4.0" fill="url(#rg)" fill-opacity="0.20"/>
<ellipse cx="344.0" cy="241.0" rx="5.0" ry="3.0" fill="url(#rg)" fill-opacity="0.17"/>
<ellipse cx="374.0" cy="248.0" rx="6.0" ry="3.0" fill="url(#rg)" fill-opacity="0.20"/>
<ellipse cx="450.0" cy="243.5" rx="24.0" ry="10.0" fill="url(#rg)" fill-opacity="0.17"/>
<ellipse cx="436.0" cy="246.5" rx="5.5" ry="2.2" fill="url(#rg)" fill-opacity="0.60"/>
<ellipse cx="443.0" cy="247.6" rx="7.0" ry="2.8" fill="url(#rg)" fill-opacity="0.30"/>
<ellipse cx="456.0" cy="239.0" rx="7.0" ry="2.8" fill="url(#rg)" fill-opacity="0.38"/>
<ellipse cx="447.0" cy="238.5" rx="6.0" ry="2.6" fill="url(#rg)" fill-opacity="0.26"/>
<ellipse cx="452.0" cy="249.0" rx="7.0" ry="2.8" fill="url(#rg)" fill-opacity="0.26"/>
<ellipse cx="463.0" cy="241.5" rx="6.0" ry="2.2" fill="url(#rg)" fill-opacity="0.32"/>
<ellipse cx="462.0" cy="246.4" rx="6.0" ry="2.8" fill="url(#rg)" fill-opacity="0.24"/>
<ellipse cx="421.0" cy="242.0" rx="3.8" ry="1.7" fill="url(#rg)" fill-opacity="0.40"/>
<ellipse cx="440.0" cy="241.0" rx="5.0" ry="2.5" fill="url(#rg)" fill-opacity="0.20"/>
<ellipse cx="468.0" cy="244.0" rx="5.0" ry="2.5" fill="url(#rg)" fill-opacity="0.20"/>
<ellipse cx="407.1" cy="254.9" rx="2.2" ry="1.1" fill="url(#rg)" fill-opacity="0.15"/>
<ellipse cx="408.6" cy="246.8" rx="2.2" ry="1.3" fill="url(#rg)" fill-opacity="0.15"/>
<ellipse cx="478.6" cy="288.4" rx="1.8" ry="1.1" fill="url(#rg)" fill-opacity="0.17"/>
<ellipse cx="472.6" cy="206.5" rx="1.6" ry="1.0" fill="url(#rg)" fill-opacity="0.10"/>
<ellipse cx="373.7" cy="200.0" rx="2.5" ry="1.2" fill="url(#rg)" fill-opacity="0.16"/>
<ellipse cx="359.5" cy="265.4" rx="2.5" ry="0.9" fill="url(#rg)" fill-opacity="0.16"/>
<ellipse cx="493.6" cy="214.9" rx="2.9" ry="1.0" fill="url(#rg)" fill-opacity="0.13"/>
<ellipse cx="497.3" cy="277.3" rx="1.7" ry="1.0" fill="url(#rg)" fill-opacity="0.13"/>
<ellipse cx="390.0" cy="212.5" rx="1.9" ry="1.2" fill="url(#rg)" fill-opacity="0.09"/>
<ellipse cx="425.4" cy="237.4" rx="1.4" ry="1.0" fill="url(#rg)" fill-opacity="0.14"/>
<ellipse cx="418.5" cy="199.1" rx="3.0" ry="1.2" fill="url(#rg)" fill-opacity="0.17"/>
<ellipse cx="351.3" cy="219.6" rx="1.5" ry="1.2" fill="url(#rg)" fill-opacity="0.11"/>
<ellipse cx="355.4" cy="235.5" rx="2.9" ry="1.2" fill="url(#rg)" fill-opacity="0.11"/>
<ellipse cx="358.6" cy="286.1" rx="2.3" ry="1.2" fill="url(#rg)" fill-opacity="0.10"/>
<ellipse cx="343.5" cy="262.6" rx="2.1" ry="0.8" fill="url(#rg)" fill-opacity="0.17"/>
<ellipse cx="438.7" cy="274.1" rx="1.5" ry="1.2" fill="url(#rg)" fill-opacity="0.10"/>
<ellipse cx="476.4" cy="238.7" rx="1.9" ry="1.1" fill="url(#rg)" fill-opacity="0.16"/>
<ellipse cx="378.2" cy="205.7" rx="2.2" ry="0.9" fill="url(#rg)" fill-opacity="0.10"/>
<ellipse cx="360.6" cy="197.7" rx="1.7" ry="1.0" fill="url(#rg)" fill-opacity="0.11"/>
<ellipse cx="459.3" cy="222.1" rx="2.2" ry="0.9" fill="url(#rg)" fill-opacity="0.12"/>
<ellipse cx="337.0" cy="218.1" rx="1.4" ry="1.2" fill="url(#rg)" fill-opacity="0.13"/>
<ellipse cx="365.3" cy="240.9" rx="2.9" ry="0.9" fill="url(#rg)" fill-opacity="0.16"/>
<ellipse cx="405.3" cy="242.9" rx="2.7" ry="1.0" fill="url(#rg)" fill-opacity="0.13"/>
<ellipse cx="447.5" cy="292.5" rx="1.9" ry="1.2" fill="url(#rg)" fill-opacity="0.15"/>
<ellipse cx="438.9" cy="233.8" rx="2.0" ry="0.8" fill="url(#rg)" fill-opacity="0.10"/>
<ellipse cx="345.7" cy="267.9" rx="1.8" ry="0.9" fill="url(#rg)" fill-opacity="0.10"/>
<ellipse cx="472.8" cy="281.1" rx="2.5" ry="0.9" fill="url(#rg)" fill-opacity="0.11"/>
<ellipse cx="382.4" cy="239.3" rx="1.7" ry="1.0" fill="url(#rg)" fill-opacity="0.11"/>
<ellipse cx="492.7" cy="291.5" rx="2.3" ry="0.9" fill="url(#rg)" fill-opacity="0.17"/>
<ellipse cx="385.1" cy="228.9" rx="1.4" ry="1.0" fill="url(#rg)" fill-opacity="0.13"/>
<ellipse cx="417.0" cy="213.0" rx="2.2" ry="0.8" fill="url(#rg)" fill-opacity="0.11"/>
<ellipse cx="348.8" cy="233.2" rx="1.5" ry="0.8" fill="url(#rg)" fill-opacity="0.11"/>
<ellipse cx="372.4" cy="252.2" rx="2.2" ry="1.2" fill="url(#rg)" fill-opacity="0.14"/>
<ellipse cx="452.1" cy="282.0" rx="2.0" ry="1.0" fill="url(#rg)" fill-opacity="0.17"/>
<ellipse cx="358.7" cy="266.2" rx="2.4" ry="0.8" fill="url(#rg)" fill-opacity="0.16"/>
<ellipse cx="481.2" cy="256.4" rx="2.6" ry="1.2" fill="url(#rg)" fill-opacity="0.10"/>
<ellipse cx="420.4" cy="243.9" rx="2.7" ry="1.2" fill="url(#rg)" fill-opacity="0.16"/>
<ellipse cx="430.4" cy="283.4" rx="2.5" ry="1.1" fill="url(#rg)" fill-opacity="0.11"/>
<ellipse cx="339.1" cy="206.1" rx="2.0" ry="0.9" fill="url(#rg)" fill-opacity="0.16"/>
<ellipse cx="426.2" cy="256.4" rx="2.4" ry="1.1" fill="url(#rg)" fill-opacity="0.13"/>
<ellipse cx="334.5" cy="273.7" rx="2.6" ry="1.1" fill="url(#rg)" fill-opacity="0.13"/>
<ellipse cx="442.8" cy="199.3" rx="2.6" ry="0.9" fill="url(#rg)" fill-opacity="0.10"/>
<ellipse cx="377.8" cy="266.8" rx="1.7" ry="1.2" fill="url(#rg)" fill-opacity="0.17"/>
<ellipse cx="415.5" cy="231.5" rx="2.2" ry="1.1" fill="url(#rg)" fill-opacity="0.15"/>
<ellipse cx="435.8" cy="258.0" rx="1.5" ry="0.9" fill="url(#rg)" fill-opacity="0.11"/>
<ellipse cx="456.6" cy="223.6" rx="2.3" ry="0.8" fill="url(#rg)" fill-opacity="0.09"/>
<ellipse cx="378.3" cy="260.9" rx="2.5" ry="1.1" fill="url(#rg)" fill-opacity="0.11"/>
<ellipse cx="419.2" cy="239.9" rx="2.1" ry="0.9" fill="url(#rg)" fill-opacity="0.16"/>
<ellipse cx="366.9" cy="292.1" rx="2.9" ry="0.8" fill="url(#rg)" fill-opacity="0.13"/>
<ellipse cx="469.3" cy="291.1" rx="2.1" ry="0.9" fill="url(#rg)" fill-opacity="0.11"/>
<ellipse cx="490.0" cy="214.0" rx="2.3" ry="0.9" fill="url(#rg)" fill-opacity="0.13"/>
<ellipse cx="491.2" cy="206.1" rx="2.7" ry="1.1" fill="url(#rg)" fill-opacity="0.16"/>
<ellipse cx="450.1" cy="216.1" rx="2.8" ry="1.0" fill="url(#rg)" fill-opacity="0.09"/>
<ellipse cx="334.6" cy="242.6" rx="2.1" ry="1.0" fill="url(#rg)" fill-opacity="0.10"/>
<ellipse cx="390.8" cy="224.7" rx="2.7" ry="0.8" fill="url(#rg)" fill-opacity="0.15"/>
<line x1="331.0" y1="243.45" x2="502.0" y2="243.45" stroke="#000" stroke-opacity="0.5" stroke-width="0.9"/>
</g></g>
<line x1="331.0" y1="243.2" x2="502.0" y2="243.2" stroke="#9a98a8" stroke-width="0.7" stroke-opacity="0.75"/>
<path class="red" d="M331.0 243.2C332.2 243.3 335.8 243.6 338.0 244.0C340.2 244.4 342.0 245.4 344.0 245.8C346.0 246.2 348.2 246.4 350.0 246.2C351.8 246.0 353.5 245.1 355.0 244.4C356.5 243.7 357.5 242.5 359.0 241.8C360.5 241.1 362.5 240.5 364.0 240.4C365.5 240.3 366.7 240.9 368.0 241.4C369.3 241.9 370.3 242.8 372.0 243.4C373.7 244.0 375.3 244.4 378.0 244.8C380.7 245.2 384.3 245.3 388.0 245.6C391.7 245.9 396.7 246.4 400.0 246.4C403.3 246.4 405.7 245.9 408.0 245.4C410.3 244.9 412.2 244.0 414.0 243.4C415.8 242.8 417.5 242.0 419.0 241.8C420.5 241.6 421.7 241.6 423.0 242.0C424.3 242.4 425.5 243.4 427.0 244.2C428.5 245.0 429.8 246.1 432.0 246.6C434.2 247.1 437.7 247.2 440.0 247.0C442.3 246.8 444.0 246.2 446.0 245.6C448.0 245.0 450.0 244.0 452.0 243.4C454.0 242.8 455.7 242.4 458.0 242.2C460.3 242.0 463.7 241.9 466.0 242.0C468.3 242.1 469.7 242.7 472.0 243.0C474.3 243.3 475.0 243.5 480.0 243.6C485.0 243.7 498.3 243.4 502.0 243.4"/>
<text class="rd" x="336.0" y="199.9" textLength="45.8" lengthAdjust="spacingAndGlyphs">Radar II</text>
<text class="tg" x="484.8" y="293.2" textLength="14.3" lengthAdjust="spacingAndGlyphs">(d)</text>
<text class="tk" x="327.8" y="192.2" text-anchor="end">500</text>
<text class="tk" x="327.8" y="219.1" text-anchor="end">250</text>
<text class="tk" x="327.8" y="246.0" text-anchor="end">0</text>
<text class="tk" x="327.8" y="273.0" text-anchor="end">-250</text>
<text class="tk" x="327.8" y="299.9" text-anchor="end">-500</text>
<text class="lb" transform="translate(306.0 243.4) rotate(-90)" text-anchor="middle" textLength="114.4" lengthAdjust="spacing">Doppler frequency, <tspan class="it">f</tspan> (HZ)</text>
<text class="tk" x="361.0" y="308.6" text-anchor="middle">0.5</text>
<text class="tk" x="392.4" y="308.6" text-anchor="middle">1</text>
<text class="tk" x="424.0" y="308.6" text-anchor="middle">1.5</text>
<text class="tk" x="455.3" y="308.6" text-anchor="middle">2</text>
<text class="tk" x="486.7" y="308.6" text-anchor="middle">2.5</text>
<text class="lb" x="416.5" y="320.2" text-anchor="middle" textLength="44.6" lengthAdjust="spacing">Time, <tspan class="it">t</tspan> (s)</text>
<rect x="508.0" y="189.6" width="12.0" height="107.7" fill="url(#cbg)" stroke="#8c8c8c" stroke-width="0.5"/>
<text class="tk" x="523.0" y="192.4">1</text>
<text class="tk" x="523.0" y="216.1">0.98</text>
<path d="M520.0 213.2h-1.4M508.0 213.2h1.4" stroke="#555" stroke-width="0.5" fill="none"/>
<text class="tk" x="523.0" y="240.1">0.96</text>
<path d="M520.0 237.2h-1.4M508.0 237.2h1.4" stroke="#555" stroke-width="0.5" fill="none"/>
<text class="tk" x="523.0" y="264.2">0.94</text>
<path d="M520.0 261.3h-1.4M508.0 261.3h1.4" stroke="#555" stroke-width="0.5" fill="none"/>
<text class="tk" x="523.0" y="288.3">0.92</text>
<path d="M520.0 285.4h-1.4M508.0 285.4h1.4" stroke="#555" stroke-width="0.5" fill="none"/>
</g>
<g id="plot-e">
<g clip-path="url(#cpe)"><g filter="url(#he)"><rect x="64.0" y="343.0" width="173.7" height="113.4" fill="#000"/>
<ellipse cx="129.0" cy="399.6" rx="29.0" ry="6.0" fill="url(#rg)" fill-opacity="0.30"/>
<ellipse cx="122.0" cy="399.5" rx="19.0" ry="11.0" fill="url(#rg)" fill-opacity="0.22"/>
<ellipse cx="121.0" cy="399.5" rx="9.0" ry="16.0" fill="url(#rg)" fill-opacity="0.20"/>
<ellipse cx="121.5" cy="394.8" rx="5.5" ry="2.3" fill="url(#rg)" fill-opacity="0.50"/>
<ellipse cx="118.5" cy="397.4" rx="5.5" ry="1.6" fill="url(#rg)" fill-opacity="0.30"/>
<ellipse cx="122.0" cy="403.4" rx="9.0" ry="2.4" fill="url(#rg)" fill-opacity="0.34"/>
<ellipse cx="121.5" cy="403.2" rx="4.0" ry="1.4" fill="url(#rg)" fill-opacity="0.25"/>
<ellipse cx="142.0" cy="397.0" rx="12.0" ry="4.6" fill="url(#rg)" fill-opacity="0.24"/>
<ellipse cx="140.0" cy="402.5" rx="11.0" ry="3.8" fill="url(#rg)" fill-opacity="0.20"/>
<ellipse cx="151.0" cy="399.0" rx="6.0" ry="3.0" fill="url(#rg)" fill-opacity="0.16"/>
<ellipse cx="175.0" cy="398.5" rx="14.0" ry="7.5" fill="url(#rg)" fill-opacity="0.24"/>
<ellipse cx="179.0" cy="404.0" rx="10.0" ry="4.5" fill="url(#rg)" fill-opacity="0.16"/>
<ellipse cx="209.0" cy="401.0" rx="27.0" ry="6.5" fill="url(#rg)" fill-opacity="0.30"/>
<ellipse cx="204.0" cy="402.0" rx="20.0" ry="11.5" fill="url(#rg)" fill-opacity="0.22"/>
<ellipse cx="203.5" cy="402.0" rx="9.0" ry="16.5" fill="url(#rg)" fill-opacity="0.20"/>
<ellipse cx="201.5" cy="404.3" rx="7.0" ry="2.2" fill="url(#rg)" fill-opacity="0.55"/>
<ellipse cx="206.5" cy="403.0" rx="5.0" ry="1.8" fill="url(#rg)" fill-opacity="0.30"/>
<ellipse cx="204.0" cy="398.0" rx="9.5" ry="2.1" fill="url(#rg)" fill-opacity="0.40"/>
<ellipse cx="222.0" cy="402.0" rx="11.0" ry="3.0" fill="url(#rg)" fill-opacity="0.22"/>
<ellipse cx="196.0" cy="405.0" rx="5.5" ry="3.2" fill="url(#rg)" fill-opacity="0.22"/>
<line x1="67.0" y1="399.70" x2="234.7" y2="399.70" stroke="#000" stroke-opacity="0.5" stroke-width="0.9"/>
</g></g>
<line x1="67.0" y1="399.5" x2="234.7" y2="399.5" stroke="#9a98a8" stroke-width="0.7" stroke-opacity="0.75"/>
<path class="red" d="M67.0 401.2C68.2 401.0 71.5 400.6 74.0 400.2C76.5 399.8 79.0 399.0 82.0 398.6C85.0 398.2 88.3 398.0 92.0 398.0C95.7 398.0 100.3 398.3 104.0 398.4C107.7 398.5 110.7 398.7 114.0 398.8C117.3 398.9 119.7 399.1 124.0 399.2C128.3 399.3 134.8 399.4 140.0 399.4C145.2 399.4 150.7 399.3 155.0 399.2C159.3 399.1 162.8 398.7 166.0 398.6C169.2 398.5 171.8 398.4 174.0 398.6C176.2 398.8 177.3 399.4 179.0 400.0C180.7 400.6 182.2 401.9 184.0 402.4C185.8 402.9 187.7 403.0 190.0 403.0C192.3 403.0 195.0 402.6 198.0 402.4C201.0 402.2 204.7 401.8 208.0 401.6C211.3 401.4 214.7 401.2 218.0 401.0C221.3 400.8 225.2 400.5 228.0 400.2C230.8 399.9 233.6 399.5 234.7 399.4"/>
<text class="rd" x="73.0" y="356.3" textLength="40.5" lengthAdjust="spacingAndGlyphs">Radar I</text>
<text class="tg" x="220.2" y="449.3" textLength="13.2" lengthAdjust="spacingAndGlyphs">(e)</text>
<text class="tk" x="63.8" y="348.6" text-anchor="end">500</text>
<text class="tk" x="63.8" y="375.4" text-anchor="end">250</text>
<text class="tk" x="63.8" y="402.3" text-anchor="end">0</text>
<text class="tk" x="63.8" y="429.1" text-anchor="end">-250</text>
<text class="tk" x="63.8" y="456.0" text-anchor="end">-500</text>
<text class="lb" transform="translate(42.0 399.7) rotate(-90)" text-anchor="middle" textLength="114.4" lengthAdjust="spacing">Doppler frequency, <tspan class="it">f</tspan> (HZ)</text>
<text class="tk" x="93.5" y="464.7" text-anchor="middle">0.5</text>
<text class="tk" x="121.2" y="464.7" text-anchor="middle">1</text>
<text class="tk" x="149.0" y="464.7" text-anchor="middle">1.5</text>
<text class="tk" x="176.8" y="464.7" text-anchor="middle">2</text>
<text class="tk" x="204.5" y="464.7" text-anchor="middle">2.5</text>
<text class="tk" x="232.0" y="464.7" text-anchor="middle">3</text>
<text class="lb" x="150.8" y="476.3" text-anchor="middle" textLength="44.6" lengthAdjust="spacing">Time, <tspan class="it">t</tspan> (s)</text>
<rect x="243.8" y="346.0" width="12.0" height="107.4" fill="url(#cbg)" stroke="#8c8c8c" stroke-width="0.5"/>
<text class="tk" x="258.8" y="378.1">0.95</text>
<path d="M255.8 375.2h-1.4M243.8 375.2h1.4" stroke="#555" stroke-width="0.5" fill="none"/>
<text class="tk" x="258.8" y="411.7">0.9</text>
<path d="M255.8 408.8h-1.4M243.8 408.8h1.4" stroke="#555" stroke-width="0.5" fill="none"/>
<text class="tk" x="258.8" y="444.9">0.85</text>
<path d="M255.8 442.0h-1.4M243.8 442.0h1.4" stroke="#555" stroke-width="0.5" fill="none"/>
</g>
<g id="plot-f">
<g clip-path="url(#cpf)"><g filter="url(#hf)"><rect x="328.0" y="343.0" width="174.0" height="113.4" fill="#000"/>
<ellipse cx="377.5" cy="397.5" rx="3.0" ry="2.6" fill="url(#rg)" fill-opacity="0.95"/>
<ellipse cx="384.0" cy="395.5" rx="5.0" ry="2.8" fill="url(#rg)" fill-opacity="0.40"/>
<ellipse cx="390.0" cy="394.4" rx="5.0" ry="2.8" fill="url(#rg)" fill-opacity="0.42"/>
<ellipse cx="396.0" cy="396.6" rx="5.0" ry="2.2" fill="url(#rg)" fill-opacity="0.38"/>
<ellipse cx="387.0" cy="396.5" rx="16.0" ry="5.5" fill="url(#rg)" fill-opacity="0.25"/>
<ellipse cx="376.0" cy="403.2" rx="4.0" ry="1.8" fill="url(#rg)" fill-opacity="0.50"/>
<ellipse cx="384.0" cy="404.2" rx="6.0" ry="2.0" fill="url(#rg)" fill-opacity="0.45"/>
<ellipse cx="391.0" cy="405.0" rx="4.0" ry="1.8" fill="url(#rg)" fill-opacity="0.40"/>
<ellipse cx="352.0" cy="395.0" rx="3.2" ry="1.5" fill="url(#rg)" fill-opacity="0.40"/>
<ellipse cx="358.0" cy="395.6" rx="2.6" ry="1.5" fill="url(#rg)" fill-opacity="0.30"/>
<ellipse cx="404.0" cy="402.0" rx="3.8" ry="1.5" fill="url(#rg)" fill-opacity="0.30"/>
<ellipse cx="401.0" cy="397.5" rx="4.0" ry="1.8" fill="url(#rg)" fill-opacity="0.30"/>
<ellipse cx="468.5" cy="403.5" rx="24.0" ry="5.4" fill="url(#rg)" fill-opacity="0.30"/>
<ellipse cx="465.0" cy="406.0" rx="14.0" ry="5.6" fill="url(#rg)" fill-opacity="0.34"/>
<ellipse cx="469.0" cy="406.0" rx="3.2" ry="2.4" fill="url(#rg)" fill-opacity="0.85"/>
<ellipse cx="461.0" cy="404.6" rx="3.8" ry="2.1" fill="url(#rg)" fill-opacity="0.50"/>
<ellipse cx="477.0" cy="403.6" rx="5.0" ry="2.0" fill="url(#rg)" fill-opacity="0.55"/>
<ellipse cx="464.5" cy="409.8" rx="7.0" ry="2.6" fill="url(#rg)" fill-opacity="0.28"/>
<ellipse cx="464.5" cy="395.3" rx="3.8" ry="2.0" fill="url(#rg)" fill-opacity="0.60"/>
<ellipse cx="436.0" cy="397.5" rx="3.8" ry="1.7" fill="url(#rg)" fill-opacity="0.35"/>
<ellipse cx="455.0" cy="403.0" rx="3.8" ry="2.1" fill="url(#rg)" fill-opacity="0.40"/>
<ellipse cx="484.0" cy="402.6" rx="3.8" ry="1.7" fill="url(#rg)" fill-opacity="0.40"/>
<ellipse cx="469.9" cy="361.2" rx="2.9" ry="1.2" fill="url(#rg)" fill-opacity="0.16"/>
<ellipse cx="381.0" cy="386.7" rx="2.0" ry="1.3" fill="url(#rg)" fill-opacity="0.14"/>
<ellipse cx="392.4" cy="392.4" rx="1.8" ry="0.8" fill="url(#rg)" fill-opacity="0.10"/>
<ellipse cx="469.2" cy="378.0" rx="2.9" ry="0.9" fill="url(#rg)" fill-opacity="0.11"/>
<ellipse cx="416.8" cy="368.3" rx="2.0" ry="1.3" fill="url(#rg)" fill-opacity="0.16"/>
<ellipse cx="465.5" cy="413.0" rx="2.9" ry="1.3" fill="url(#rg)" fill-opacity="0.13"/>
<ellipse cx="450.6" cy="354.0" rx="2.6" ry="1.0" fill="url(#rg)" fill-opacity="0.15"/>
<ellipse cx="438.4" cy="378.0" rx="1.5" ry="1.3" fill="url(#rg)" fill-opacity="0.10"/>
<ellipse cx="410.5" cy="383.8" rx="1.9" ry="1.2" fill="url(#rg)" fill-opacity="0.17"/>
<ellipse cx="376.1" cy="415.5" rx="1.9" ry="1.1" fill="url(#rg)" fill-opacity="0.12"/>
<ellipse cx="361.1" cy="365.4" rx="1.7" ry="1.3" fill="url(#rg)" fill-opacity="0.13"/>
<ellipse cx="369.6" cy="440.9" rx="3.0" ry="1.0" fill="url(#rg)" fill-opacity="0.10"/>
<ellipse cx="365.2" cy="358.2" rx="1.9" ry="0.8" fill="url(#rg)" fill-opacity="0.11"/>
<ellipse cx="375.9" cy="406.8" rx="2.8" ry="1.2" fill="url(#rg)" fill-opacity="0.12"/>
<ellipse cx="401.0" cy="402.2" rx="2.0" ry="1.0" fill="url(#rg)" fill-opacity="0.09"/>
<ellipse cx="379.0" cy="447.1" rx="1.6" ry="1.1" fill="url(#rg)" fill-opacity="0.14"/>
<ellipse cx="473.8" cy="370.9" rx="1.8" ry="0.9" fill="url(#rg)" fill-opacity="0.12"/>
<ellipse cx="406.2" cy="445.7" rx="2.8" ry="1.2" fill="url(#rg)" fill-opacity="0.09"/>
<ellipse cx="339.2" cy="420.9" rx="2.8" ry="1.0" fill="url(#rg)" fill-opacity="0.14"/>
<ellipse cx="334.0" cy="388.7" rx="2.9" ry="1.2" fill="url(#rg)" fill-opacity="0.16"/>
<ellipse cx="491.5" cy="374.2" rx="1.6" ry="0.9" fill="url(#rg)" fill-opacity="0.13"/>
<ellipse cx="444.5" cy="444.5" rx="2.6" ry="1.1" fill="url(#rg)" fill-opacity="0.15"/>
<ellipse cx="408.1" cy="404.9" rx="1.5" ry="1.2" fill="url(#rg)" fill-opacity="0.11"/>
<ellipse cx="483.0" cy="414.5" rx="1.9" ry="0.9" fill="url(#rg)" fill-opacity="0.11"/>
<ellipse cx="437.1" cy="419.8" rx="1.6" ry="0.8" fill="url(#rg)" fill-opacity="0.13"/>
<ellipse cx="428.4" cy="388.4" rx="1.8" ry="1.1" fill="url(#rg)" fill-opacity="0.09"/>
<ellipse cx="382.8" cy="395.7" rx="2.9" ry="1.1" fill="url(#rg)" fill-opacity="0.16"/>
<ellipse cx="411.0" cy="372.8" rx="1.8" ry="1.3" fill="url(#rg)" fill-opacity="0.15"/>
<ellipse cx="383.8" cy="351.2" rx="2.2" ry="1.1" fill="url(#rg)" fill-opacity="0.12"/>
<ellipse cx="375.7" cy="416.7" rx="2.9" ry="0.9" fill="url(#rg)" fill-opacity="0.09"/>
<ellipse cx="388.8" cy="391.6" rx="2.5" ry="0.9" fill="url(#rg)" fill-opacity="0.15"/>
<ellipse cx="453.7" cy="400.2" rx="1.7" ry="1.3" fill="url(#rg)" fill-opacity="0.11"/>
<ellipse cx="466.8" cy="372.4" rx="1.8" ry="1.2" fill="url(#rg)" fill-opacity="0.11"/>
<ellipse cx="488.2" cy="399.3" rx="1.7" ry="0.9" fill="url(#rg)" fill-opacity="0.12"/>
<ellipse cx="441.8" cy="445.2" rx="1.6" ry="1.0" fill="url(#rg)" fill-opacity="0.11"/>
<ellipse cx="491.8" cy="363.4" rx="1.5" ry="0.8" fill="url(#rg)" fill-opacity="0.12"/>
<ellipse cx="479.5" cy="438.6" rx="2.6" ry="1.3" fill="url(#rg)" fill-opacity="0.16"/>
<ellipse cx="387.3" cy="367.8" rx="2.9" ry="1.2" fill="url(#rg)" fill-opacity="0.09"/>
<ellipse cx="441.6" cy="387.4" rx="2.0" ry="1.0" fill="url(#rg)" fill-opacity="0.10"/>
<ellipse cx="334.5" cy="377.4" rx="2.0" ry="1.3" fill="url(#rg)" fill-opacity="0.10"/>
<ellipse cx="490.2" cy="370.0" rx="2.0" ry="1.2" fill="url(#rg)" fill-opacity="0.16"/>
<ellipse cx="404.1" cy="354.0" rx="2.2" ry="1.0" fill="url(#rg)" fill-opacity="0.16"/>
<ellipse cx="365.3" cy="385.9" rx="2.8" ry="0.8" fill="url(#rg)" fill-opacity="0.12"/>
<ellipse cx="465.5" cy="426.7" rx="1.5" ry="0.8" fill="url(#rg)" fill-opacity="0.10"/>
<ellipse cx="483.1" cy="375.1" rx="2.6" ry="1.2" fill="url(#rg)" fill-opacity="0.12"/>
<ellipse cx="378.1" cy="446.1" rx="2.4" ry="0.9" fill="url(#rg)" fill-opacity="0.15"/>
<ellipse cx="385.3" cy="376.9" rx="1.4" ry="1.2" fill="url(#rg)" fill-opacity="0.16"/>
<ellipse cx="436.7" cy="444.6" rx="1.4" ry="0.9" fill="url(#rg)" fill-opacity="0.13"/>
<ellipse cx="489.0" cy="445.7" rx="2.0" ry="0.9" fill="url(#rg)" fill-opacity="0.12"/>
<ellipse cx="413.9" cy="443.1" rx="1.7" ry="1.2" fill="url(#rg)" fill-opacity="0.15"/>
<ellipse cx="467.3" cy="427.4" rx="2.4" ry="1.0" fill="url(#rg)" fill-opacity="0.12"/>
<ellipse cx="392.6" cy="428.3" rx="1.5" ry="0.9" fill="url(#rg)" fill-opacity="0.15"/>
<ellipse cx="374.1" cy="355.6" rx="1.5" ry="1.1" fill="url(#rg)" fill-opacity="0.12"/>
<ellipse cx="492.8" cy="438.6" rx="3.0" ry="0.9" fill="url(#rg)" fill-opacity="0.10"/>
<ellipse cx="349.6" cy="399.5" rx="2.5" ry="1.0" fill="url(#rg)" fill-opacity="0.11"/>
<line x1="331.0" y1="399.70" x2="499.0" y2="399.70" stroke="#000" stroke-opacity="0.5" stroke-width="0.9"/>
</g></g>
<line x1="331.0" y1="399.5" x2="499.0" y2="399.5" stroke="#9a98a8" stroke-width="0.7" stroke-opacity="0.75"/>
<path class="red" d="M331.0 399.8C332.8 399.7 338.5 399.3 342.0 399.0C345.5 398.7 348.7 398.1 352.0 397.9C355.3 397.7 359.0 397.8 362.0 397.9C365.0 398.0 367.3 398.6 370.0 398.6C372.7 398.6 375.3 398.2 378.0 397.9C380.7 397.6 383.3 397.1 386.0 397.0C388.7 396.9 391.7 396.8 394.0 397.0C396.3 397.2 398.2 397.9 400.0 398.4C401.8 398.9 403.0 399.6 405.0 400.0C407.0 400.4 409.5 400.5 412.0 400.5C414.5 400.5 417.3 400.4 420.0 400.0C422.7 399.6 425.3 398.8 428.0 398.4C430.7 398.0 433.7 397.8 436.0 397.8C438.3 397.8 440.2 398.2 442.0 398.6C443.8 399.0 445.3 399.4 447.0 400.2C448.7 401.0 450.2 402.6 452.0 403.4C453.8 404.2 455.8 404.6 458.0 404.8C460.2 405.0 462.3 404.8 465.0 404.6C467.7 404.4 471.2 404.1 474.0 403.8C476.8 403.5 479.3 403.2 482.0 402.8C484.7 402.4 487.8 402.0 490.0 401.6C492.2 401.2 493.5 400.6 495.0 400.2C496.5 399.8 498.3 399.5 499.0 399.4"/>
<text class="rd" x="336.0" y="356.3" textLength="45.8" lengthAdjust="spacingAndGlyphs">Radar II</text>
<text class="tg" x="484.8" y="449.3" textLength="11.7" lengthAdjust="spacingAndGlyphs">(f)</text>
<text class="tk" x="327.8" y="348.6" text-anchor="end">500</text>
<text class="tk" x="327.8" y="375.4" text-anchor="end">250</text>
<text class="tk" x="327.8" y="402.3" text-anchor="end">0</text>
<text class="tk" x="327.8" y="429.1" text-anchor="end">-250</text>
<text class="tk" x="327.8" y="456.0" text-anchor="end">-500</text>
<text class="lb" transform="translate(306.0 399.7) rotate(-90)" text-anchor="middle" textLength="114.4" lengthAdjust="spacing">Doppler frequency, <tspan class="it">f</tspan> (HZ)</text>
<text class="tk" x="357.8" y="464.7" text-anchor="middle">0.5</text>
<text class="tk" x="385.5" y="464.7" text-anchor="middle">1</text>
<text class="tk" x="413.5" y="464.7" text-anchor="middle">1.5</text>
<text class="tk" x="441.3" y="464.7" text-anchor="middle">2</text>
<text class="tk" x="469.0" y="464.7" text-anchor="middle">2.5</text>
<text class="tk" x="496.7" y="464.7" text-anchor="middle">3</text>
<text class="lb" x="415.0" y="476.3" text-anchor="middle" textLength="44.6" lengthAdjust="spacing">Time, <tspan class="it">t</tspan> (s)</text>
<rect x="508.3" y="346.0" width="11.8" height="107.4" fill="url(#cbg)" stroke="#8c8c8c" stroke-width="0.5"/>
<text class="tk" x="523.1" y="348.9">1</text>
<text class="tk" x="523.1" y="372.4">0.98</text>
<path d="M520.1 369.5h-1.4M508.3 369.5h1.4" stroke="#555" stroke-width="0.5" fill="none"/>
<text class="tk" x="523.1" y="395.9">0.96</text>
<path d="M520.1 393.0h-1.4M508.3 393.0h1.4" stroke="#555" stroke-width="0.5" fill="none"/>
<text class="tk" x="523.1" y="419.5">0.94</text>
<path d="M520.1 416.6h-1.4M508.3 416.6h1.4" stroke="#555" stroke-width="0.5" fill="none"/>
<text class="tk" x="523.1" y="443.3">0.92</text>
<path d="M520.1 440.4h-1.4M508.3 440.4h1.4" stroke="#555" stroke-width="0.5" fill="none"/>
</g>
</svg>
</body>
</html>
